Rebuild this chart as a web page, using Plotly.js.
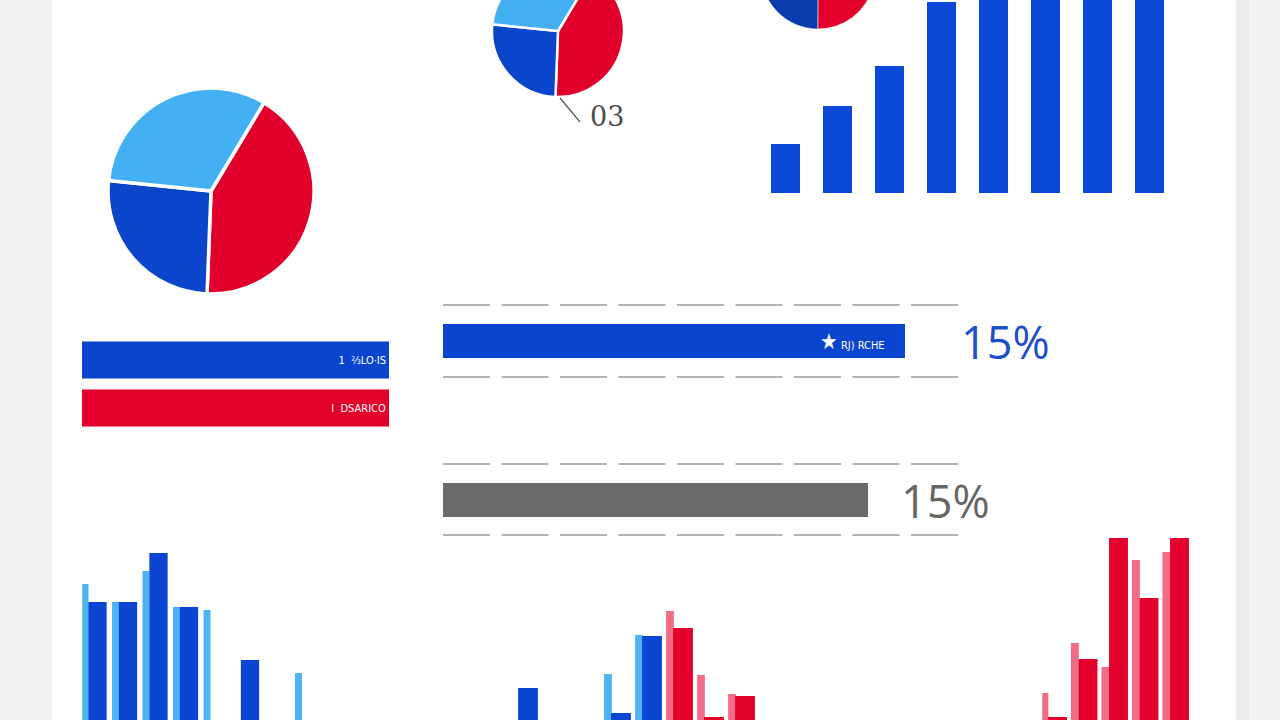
<!DOCTYPE html>
<html><head><meta charset="utf-8">
<script src="https://cdn.plot.ly/plotly-3.0.1.min.js"></script>
<style>
html,body{margin:0;padding:0;overflow:hidden;background:#f2f3f5;width:1280px;height:720px;position:relative}
#chart{position:absolute;left:0;top:-100px;width:1280px;height:820px}
</style>
</head><body><div id="chart"></div>
<script>
// ---------- data ----------
const pieLabels = ['Red', 'Blue', 'Light blue'];
const pieValues = [42, 26, 32];
const pieColors = ['#e0002b', '#0a45cc', '#43b0f4'];
const pieColorsDark = ['#e3002b', '#0b3cae', '#43b0f4'];

const growthCats = ['1', '2', '3', '4', '5', '6', '7', '8'];
const growthValues = [49, 87, 127, 191, 236, 244, 252, 262];

const splitLabels = ['1  \u2154LO\u00b7IS', 'I  DSARICO'];
const splitValues = [100, 100];

const shareValues = [15, 13.8];
const shareLabels = ['15%', '15%'];
const shareNote = '\u2605 RJ) RCHE';
const pieCallout = '03';

const leftDark  = [118, 118, 167, 113, 0, 60, 0, 0];
const leftLight = [136, 118, 149, 113, 110, 0, 0, 47];

const midDark  = [32, 0, 0, 7, 84, 92, 3, 24];
const midLight = [0, 0, 0, 46, 85, 109, 45, 26];
const midDarkColors  = ['#0a46d2', '#0a46d2', '#0a46d2', '#0a46d2', '#0a46d2', '#e3002d', '#e3002d', '#e3002d'];
const midLightColors = ['#4db4f3', '#4db4f3', '#4db4f3', '#4db4f3', '#4db4f3', '#f36c86', '#f36c86', '#f36c86'];

const rightDark  = [3, 61, 182, 122, 182];
const rightLight = [27, 77, 53, 160, 168];

// ---------- helpers ----------
const W = 1280, H = 820, OFF = 100;
const fx = p => p / W;
const fy = p => 1 - (p + OFF) / H;
const idx = a => a.map((_, i) => i);

const BLUE = '#0a46d2', LBLUE = '#4db4f3', RED = '#e3002d', PINK = '#f36c86';

const pieBase = {
  type: 'pie', values: pieValues, labels: pieLabels, sort: false,
  direction: 'clockwise', textinfo: 'none', hoverinfo: 'none', showlegend: false
};

const traces = [
  Object.assign({}, pieBase, {
    rotation: 31, marker: {colors: pieColors, line: {color: '#ffffff', width: 3.5}},
    domain: {x: [fx(108), fx(314)], y: [fy(294), fy(88)]}
  }),
  Object.assign({}, pieBase, {
    rotation: 31, marker: {colors: pieColors, line: {color: '#ffffff', width: 2.5}},
    domain: {x: [fx(492), fx(624)], y: [fy(97), fy(-35)]}
  }),
  Object.assign({}, pieBase, {
    rotation: 29, marker: {colors: pieColorsDark, line: {color: '#ffffff', width: 0.5}},
    domain: {x: [fx(761), fx(875)], y: [fy(29), fy(-85)]}
  }),
  // top-right growth bars
  {type: 'bar', x: idx(growthCats), y: growthValues, width: 0.558,
   marker: {color: '#0a48d5'}, xaxis: 'x', yaxis: 'y', hoverinfo: 'none'},
  // left split bars
  {type: 'bar', orientation: 'h', y: idx(splitValues), x: splitValues, width: 0.77,
   marker: {color: ['#0a45d0', '#e3002b']}, text: splitLabels, textposition: 'inside',
   insidetextanchor: 'end', constraintext: 'none',
   textfont: {color: '#ffffff', size: 11, family: 'DejaVu Sans Condensed, DejaVu Sans'},
   xaxis: 'x2', yaxis: 'y2', hoverinfo: 'none'},
  // middle share bars
  {type: 'bar', orientation: 'h', y: idx(shareValues), x: shareValues, width: 0.214,
   marker: {color: ['#0a45d0', '#6b6b6b']}, xaxis: 'x3', yaxis: 'y3', hoverinfo: 'none'},
  // bottom left group
  {type: 'bar', x: idx(leftLight), y: leftLight, width: 0.23, offset: -0.525,
   marker: {color: LBLUE}, xaxis: 'x4', yaxis: 'y4', hoverinfo: 'none'},
  {type: 'bar', x: idx(leftDark), y: leftDark, width: 0.6, offset: -0.3,
   marker: {color: BLUE}, xaxis: 'x4', yaxis: 'y4', hoverinfo: 'none'},
  // bottom middle group
  {type: 'bar', x: idx(midLight), y: midLight, width: 0.25, offset: -0.545,
   marker: {color: midLightColors}, xaxis: 'x5', yaxis: 'y5', hoverinfo: 'none'},
  {type: 'bar', x: idx(midDark), y: midDark, width: 0.64, offset: -0.32,
   marker: {color: midDarkColors}, xaxis: 'x5', yaxis: 'y5', hoverinfo: 'none'},
  // bottom right group
  {type: 'bar', x: idx(rightLight), y: rightLight, width: 0.26, offset: -0.56,
   marker: {color: PINK}, xaxis: 'x6', yaxis: 'y6', hoverinfo: 'none'},
  {type: 'bar', x: idx(rightDark), y: rightDark, width: 0.62, offset: -0.31,
   marker: {color: RED}, xaxis: 'x6', yaxis: 'y6', hoverinfo: 'none'}
];

const hid = {visible: false, fixedrange: true};
const dashLine = y => ({type: 'line', xref: 'paper', yref: 'paper',
  x0: fx(443), x1: fx(958), y0: fy(y), y1: fy(y),
  line: {color: '#b3b3b3', width: 2, dash: '47px,11.5px'}});

const layout = {
  width: W, height: H, margin: {l: 0, r: 0, t: 0, b: 0, pad: 0},
  paper_bgcolor: '#f2f3f5', plot_bgcolor: 'rgba(0,0,0,0)',
  showlegend: false, barmode: 'overlay',
  font: {family: 'Open Sans, Noto Sans, sans-serif'},
  xaxis:  Object.assign({}, hid, {domain: [fx(759.5), fx(1175.5)], range: [-0.5, 7.5]}),
  yaxis:  Object.assign({}, hid, {domain: [fy(193), 1], range: [0, 293]}),
  xaxis2: Object.assign({}, hid, {domain: [fx(82), fx(389)], range: [0, 100]}),
  yaxis2: Object.assign({}, hid, {domain: [fy(432), fy(336)], range: [1.5, -0.5]}),
  xaxis3: Object.assign({}, hid, {domain: [fx(443), fx(1059)], range: [0, 20]}),
  yaxis3: Object.assign({}, hid, {domain: [fy(579.5), fy(261.5)], range: [1.5, -0.5]}),
  xaxis4: Object.assign({}, hid, {domain: [fx(82.25), fx(326.25)], range: [-0.5, 7.5]}),
  yaxis4: Object.assign({}, hid, {domain: [0, fy(520)], range: [0, 200]}),
  xaxis5: Object.assign({}, hid, {domain: [fx(512.5), fx(760.5)], range: [-0.5, 7.5]}),
  yaxis5: Object.assign({}, hid, {domain: [0, fy(520)], range: [0, 200]}),
  xaxis6: Object.assign({}, hid, {domain: [fx(1042.25), fx(1194.75)], range: [-0.5, 4.5]}),
  yaxis6: Object.assign({}, hid, {domain: [0, fy(520)], range: [0, 200]}),
  shapes: [
    {type: 'rect', xref: 'paper', yref: 'paper', x0: fx(52), x1: fx(1236), y0: 0, y1: 1,
     fillcolor: '#ffffff', line: {width: 0}, layer: 'below'},
    {type: 'rect', xref: 'paper', yref: 'paper', x0: fx(1236), x1: fx(1249), y0: 0, y1: 1,
     fillcolor: '#eaebed', line: {width: 0}, layer: 'below'},
    dashLine(305), dashLine(377), dashLine(464), dashLine(535),
    {type: 'line', xref: 'paper', yref: 'paper', x0: fx(560), y0: fy(98), x1: fx(580), y1: fy(122),
     line: {color: '#555555', width: 1.2}}
  ],
  annotations: [
    {xref: 'x3', yref: 'y3', x: shareValues[0], y: 0, text: shareLabels[0], xanchor: 'left',
     xshift: 54, showarrow: false, font: {size: 45, color: '#1d4fc8', family: 'Open Sans'}},
    {xref: 'x3', yref: 'y3', x: shareValues[1], y: 1, text: shareLabels[1], xanchor: 'left',
     xshift: 31, showarrow: false, font: {size: 45, color: '#666666', family: 'Open Sans'}},
    {xref: 'x3', yref: 'y3', x: shareValues[0], y: 0,
     text: shareNote.replace('\u2605', '<span style="font-size:22px">\u2605</span>'),
     xanchor: 'right', xshift: -18, showarrow: false,
     font: {size: 11, color: '#ffffff', family: 'DejaVu Sans Condensed, DejaVu Sans'}},
    {xref: 'paper', yref: 'paper', x: fx(588), y: fy(116), text: pieCallout, xanchor: 'left',
     yanchor: 'middle', showarrow: false, font: {size: 27, color: '#4d4d4d', family: 'DejaVu Serif'}}
  ]
};

Plotly.newPlot('chart', traces, layout, {staticPlot: true, displayModeBar: false});
</script></body></html>
